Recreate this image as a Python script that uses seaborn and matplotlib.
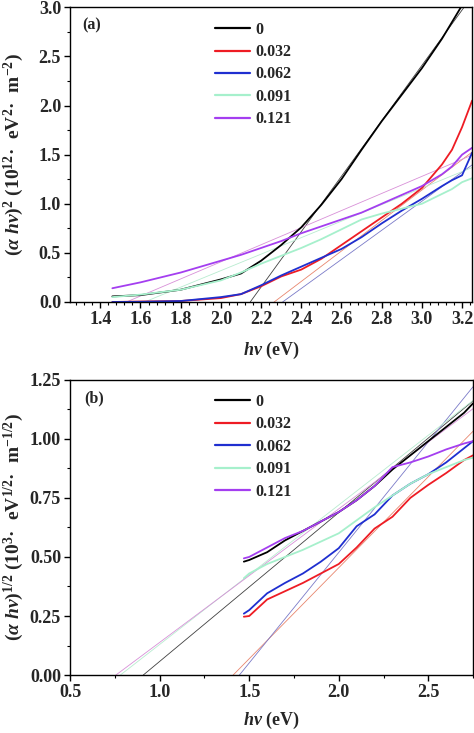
import numpy as np
import pandas as pd
import matplotlib
matplotlib.use("Agg")
import matplotlib.pyplot as plt
from matplotlib.ticker import MultipleLocator
import seaborn as sns

# series labels and colours
labels = ["0", "0.032", "0.062", "0.091", "0.121"]
colors = ["#000000", "#ee1c24", "#1f2fd0", "#a6f0cc", "#a43ef0"]
fit_colors = ["#404040", "#e8866e", "#7a7ac8", "#b8ecd0", "#d890d8"]

# panel (a): (alpha h nu)^2 vs h nu
x_a = [1.46, 1.6, 1.8, 2.0, 2.1, 2.2, 2.3, 2.4, 2.5, 2.6, 2.7, 2.8, 2.9, 3.0, 3.1, 3.15, 3.2, 3.25]
y_a_0 = [0.057, 0.07, 0.125, 0.23, 0.29, 0.42, 0.58, 0.76, 0.99, 1.25, 1.55, 1.84, 2.11, 2.38, 2.68, 2.85, 3.02, 3.2]
y_a_032 = [0.0, 0.005, 0.01, 0.04, 0.08, 0.16, 0.26, 0.33, 0.44, 0.58, 0.72, 0.86, 1.0, 1.16, 1.40, 1.55, 1.78, 2.05]
y_a_062 = [0.0, 0.002, 0.01, 0.05, 0.08, 0.17, 0.27, 0.36, 0.45, 0.54, 0.66, 0.80, 0.93, 1.05, 1.18, 1.24, 1.29, 1.52]
y_a_091 = [0.05, 0.075, 0.125, 0.22, 0.30, 0.39, 0.47, 0.55, 0.64, 0.74, 0.84, 0.90, 0.95, 1.0, 1.1, 1.15, 1.22, 1.26]
y_a_121 = [0.14, 0.20, 0.30, 0.42, 0.48, 0.55, 0.62, 0.70, 0.77, 0.84, 0.91, 1.0, 1.09, 1.18, 1.30, 1.38, 1.50, 1.57]

# tangent lines (a): x intercept and slope
fit_a_x0 = [2.146, 2.265, 2.307, 1.62, 1.53]
fit_a_slope = [2.82, 1.55, 1.48, 0.84, 0.87]
fit_a_xend = 3.25

# panel (b): (alpha h nu)^1/2 vs h nu
x_b = [1.47, 1.5, 1.6, 1.7, 1.8, 1.9, 2.0, 2.1, 2.2, 2.3, 2.4, 2.5, 2.6, 2.7, 2.75]
y_b_0 = [0.48, 0.487, 0.52, 0.57, 0.61, 0.65, 0.69, 0.74, 0.80, 0.87, 0.93, 0.99, 1.05, 1.11, 1.15]
y_b_032 = [0.247, 0.25, 0.32, 0.355, 0.39, 0.43, 0.47, 0.54, 0.62, 0.67, 0.75, 0.805, 0.855, 0.91, 0.93]
y_b_062 = [0.26, 0.275, 0.346, 0.39, 0.43, 0.48, 0.537, 0.63, 0.68, 0.76, 0.81, 0.85, 0.90, 0.96, 0.99]
y_b_091 = [0.41, 0.43, 0.47, 0.50, 0.53, 0.565, 0.60, 0.655, 0.71, 0.76, 0.81, 0.85, 0.88, 0.91, 0.92]
y_b_121 = [0.494, 0.50, 0.54, 0.58, 0.61, 0.65, 0.69, 0.74, 0.80, 0.88, 0.90, 0.925, 0.955, 0.98, 0.99]

fit_b_x0 = [0.908, 1.41, 1.445, 0.78, 0.755]
fit_b_slope = [0.63, 0.77, 0.935, 0.59, 0.565]
fit_b_xend = 2.75


def long_frame(x, ys):
    rows = []
    for lab, y in zip(labels, ys):
        rows.append(pd.DataFrame({"x": x, "y": y, "c": lab}))
    return pd.concat(rows, ignore_index=True)


df_a = long_frame(x_a, [y_a_0, y_a_032, y_a_062, y_a_091, y_a_121])
df_b = long_frame(x_b, [y_b_0, y_b_032, y_b_062, y_b_091, y_b_121])

sns.set_theme(style="ticks")
plt.rcParams["font.family"] = ["Liberation Serif", "DejaVu Serif"]
plt.rcParams["font.weight"] = "bold"
plt.rcParams["mathtext.fontset"] = "custom"
plt.rcParams["mathtext.rm"] = "Liberation Serif:bold"
plt.rcParams["mathtext.it"] = "Liberation Serif:italic:bold"
plt.rcParams["mathtext.bf"] = "Liberation Serif:bold"

fig = plt.figure(figsize=(4.74, 7.33), dpi=100)
ax1 = fig.add_axes([0.148, 0.588, 0.848, 0.402])
ax2 = fig.add_axes([0.148, 0.079, 0.850, 0.403])

palette = dict(zip(labels, colors))


def draw(ax, df, x0s, slopes, xend):
    for x0, s, c in zip(x0s, slopes, fit_colors):
        xs = np.array([x0, xend])
        ax.plot(xs, s * (xs - x0), color=c, lw=0.6, zorder=1)
    sns.lineplot(data=df, x="x", y="y", hue="c", hue_order=labels,
                 palette=palette, lw=1.3, ax=ax, zorder=2)
    leg = ax.legend(frameon=False, handlelength=2.15, handletextpad=0.35,
                    labelspacing=0.4, fontsize=11.5, loc="upper left",
                    bbox_to_anchor=(0.325, 1.0))
    for h in leg.get_lines():
        h.set_linewidth(1.6)
    for sp in ax.spines.values():
        sp.set_visible(True)
        sp.set_color("black")
        sp.set_linewidth(1.0)
    ax.tick_params(which="major", direction="out", length=4.5, width=1,
                   labelsize=13, color="black", pad=2)
    ax.tick_params(which="minor", direction="out", length=2.5, width=0.8,
                   color="black")
    for lab in ax.get_xticklabels() + ax.get_yticklabels():
        lab.set_fontweight("bold")


draw(ax1, df_a, fit_a_x0, fit_a_slope, fit_a_xend)
ax1.set_xlim(1.25, 3.25)
ax1.set_ylim(0, 3.0)
ax1.xaxis.set_major_locator(MultipleLocator(0.2))
ax1.xaxis.set_minor_locator(MultipleLocator(0.04))
ax1.yaxis.set_major_locator(MultipleLocator(0.5))
ax1.yaxis.set_minor_locator(MultipleLocator(0.25))
ax1.set_xlabel(r"$h\nu$ (eV)", fontsize=13, fontweight="bold")
ax1.set_ylabel(r"$(\alpha\ h\nu)^2\ (10^{12}$·  eV$^2$·  m$^{-2})$", fontsize=14, fontweight="bold")
ax1.text(0.03, 0.965, "(a)", transform=ax1.transAxes, fontsize=11.5, fontweight="bold", va="top")

draw(ax2, df_b, fit_b_x0, fit_b_slope, fit_b_xend)
ax2.set_xlim(0.5, 2.75)
ax2.set_ylim(0, 1.25)
ax2.xaxis.set_major_locator(MultipleLocator(0.5))
ax2.xaxis.set_minor_locator(MultipleLocator(0.25))
ax2.yaxis.set_major_locator(MultipleLocator(0.25))
ax2.yaxis.set_minor_locator(MultipleLocator(0.125))
ax2.set_xlabel(r"$h\nu$ (eV)", fontsize=13, fontweight="bold")
ax2.set_ylabel(r"$(\alpha\ h\nu)^{1/2}\ (10^{3}$·  eV$^{1/2}$·  m$^{-1/2})$", fontsize=14, fontweight="bold")
ax2.text(0.035, 0.965, "(b)", transform=ax2.transAxes, fontsize=11.5, fontweight="bold", va="top")

for ax in (ax1, ax2):
    ax.yaxis.set_label_coords(-0.11, 0.5)
ax1.xaxis.set_label_coords(0.5, -0.13)
ax2.xaxis.set_label_coords(0.5, -0.118)

fig.savefig("out.png", dpi=100)
